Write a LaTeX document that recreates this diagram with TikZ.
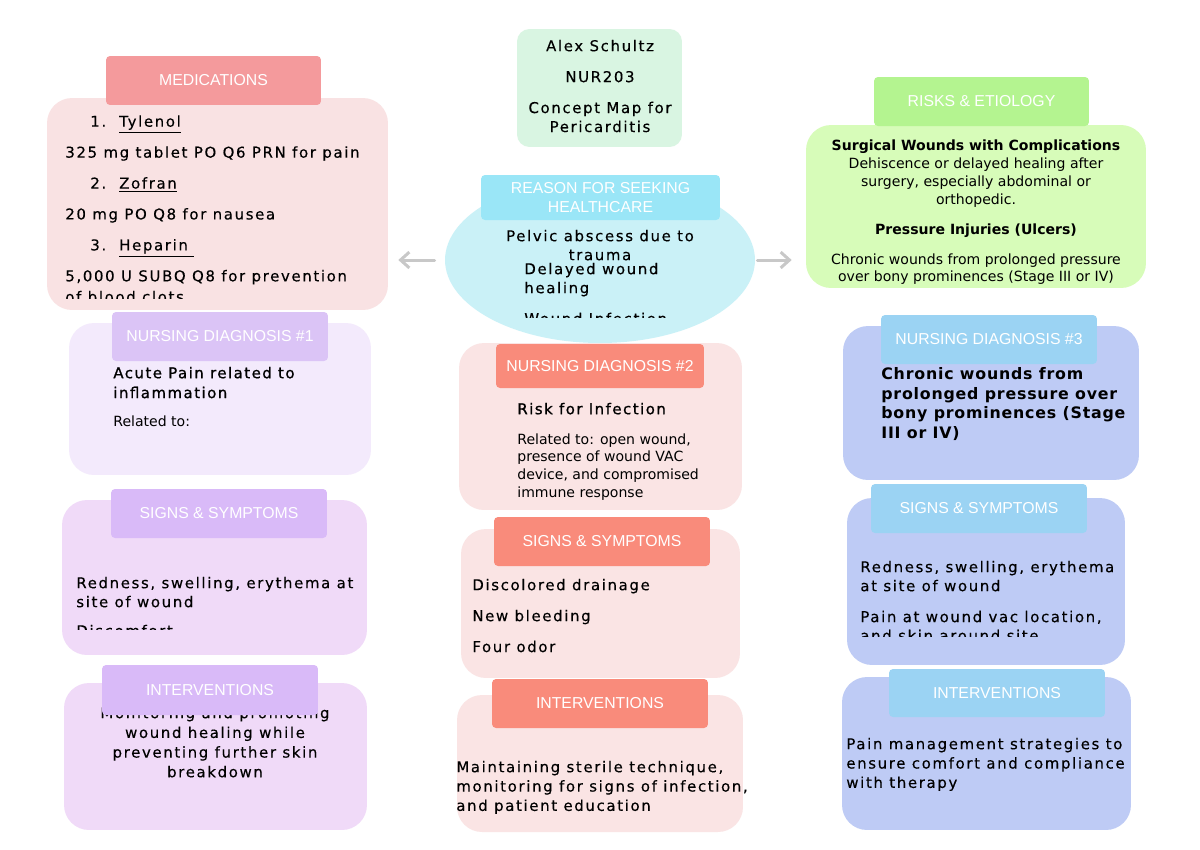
\documentclass[tikz,border=0pt]{standalone}
\usepackage{fontspec}
\setmainfont{DejaVu Sans}
\newfontfamily\bodyfont[LetterSpace=11,FakeBold=0.3]{DejaVu Sans}
\newfontfamily\semifont[LetterSpace=10,FakeBold=1]{DejaVu Sans}
\newfontfamily\widefont[LetterSpace=5]{DejaVu Sans}
\newfontfamily\plainfont{DejaVu Sans}
\newfontfamily\headfont{Liberation Sans}
\usetikzlibrary{arrows.meta,shapes.geometric}

\definecolor{medfill}{HTML}{F9E2E3}
\definecolor{medhead}{HTML}{F49A9C}
\definecolor{titlefill}{HTML}{D9F5E2}
\definecolor{reasonfill}{HTML}{CAF1F7}
\definecolor{reasonhead}{HTML}{9AE6F7}
\definecolor{riskfill}{HTML}{D7FCB9}
\definecolor{riskhead}{HTML}{B4F490}
\definecolor{lilacfill}{HTML}{F3EAFC}
\definecolor{lilachead}{HTML}{DBC4F6}
\definecolor{violetfill}{HTML}{F0DAF8}
\definecolor{violethead}{HTML}{D9BAF8}
\definecolor{rosefill}{HTML}{FAE4E4}
\definecolor{salmonhead}{HTML}{F98B7B}
\definecolor{bluefill}{HTML}{BECBF5}
\definecolor{bluehead}{HTML}{9BD3F3}
\definecolor{linkgray}{HTML}{C8C8C8}

\begin{document}
\begin{tikzpicture}[
    x=0.02cm, y=-0.02cm,
    panel/.style={rectangle, rounded corners=0.5cm, inner sep=0},
    tag/.style={rectangle, rounded corners=0.08cm, inner sep=0, text=white, align=center,
      font=\headfont\fontsize{9}{10.8}\selectfont},
    body/.style={inner sep=0, align=left, font=\bodyfont\fontsize{8.5}{11.3}\selectfont},
    link/.style={-{Straight Barb[length=5pt,width=9pt]}, line width=1.7pt, draw=linkgray, line cap=round}
  ]
    \useasboundingbox (0,0) rectangle (1200,849);
    \fill[white] (0,0) rectangle (1200,849);

    % title
    \node[panel, rounded corners=0.25cm, fill=titlefill, minimum width=3.3cm, minimum height=2.36cm] (title) at (599.5,88) {};
    \node[body, align=center, anchor=north, font=\bodyfont\fontsize{8.5}{10.8}\selectfont] (titletext) at (600,39.5)
      {Alex Schultz\\[6.8pt] NUR203\\[6.8pt] Concept Map for\\ Pericarditis};

    % medications
    \node[panel, fill=medfill, minimum width=6.82cm, minimum height=4.24cm] (med) at (217.5,204) {};
    \begin{scope}
      \clip (47,98) rectangle (388,298);
      \node[body, anchor=north west, font=\bodyfont\fontsize{8.5}{11.9}\selectfont] (medtext) at (65,115)
        {\hspace*{0.5cm}1.\hspace{0.26cm}\underline{Tylenol}\\[5.7pt]
         325 mg tablet PO Q6 PRN for pain\\[5.7pt]
         \hspace*{0.5cm}2.\hspace{0.26cm}\underline{Zofran}\\[5.7pt]
         20 mg PO Q8 for nausea\\[5.7pt]
         \hspace*{0.5cm}3.\hspace{0.26cm}\underline{Heparin\ }\\[5.7pt]
         5,000 U SUBQ Q8 for prevention\\
         of blood clots};
    \end{scope}
    \node[tag, fill=medhead, minimum width=4.3cm, minimum height=0.98cm] (medh) at (213.5,80.5) {MEDICATIONS};

    % risks and etiology
    \node[panel, fill=riskfill, minimum width=6.8cm, minimum height=3.26cm] (risk) at (976,206.5) {};
    \node[inner sep=0, align=center, anchor=north, font=\plainfont\fontsize{8}{10.2}\selectfont] (risktext) at (976,139.5)
      {\textbf{Surgical Wounds with Complications}\\
       Dehiscence or delayed healing after\\
       surgery, especially abdominal or\\
       orthopedic.\\[6.8pt]
       \textbf{Pressure Injuries (Ulcers)}\\[6.8pt]
       Chronic wounds from prolonged pressure\\
       over bony prominences (Stage III or IV)};
    \node[tag, fill=riskhead, minimum width=4.3cm, minimum height=0.98cm] (riskh) at (981.5,101.5) {RISKS \& ETIOLOGY};

    % nursing diagnosis 1
    \node[panel, fill=lilacfill, minimum width=6.04cm, minimum height=3.04cm] (nda) at (220,399) {};
    \node[body, anchor=north west] (ndatext) at (113,366.5)
      {{\semifont Acute Pain related to}\\
       {\semifont inflammation}\\[5.1pt]
       {\plainfont\fontsize{8}{10.2}\selectfont Related to:}};
    \node[tag, fill=lilachead, minimum width=4.32cm, minimum height=0.98cm] (ndah) at (220,336.5) {NURSING DIAGNOSIS \#1};

    % signs and symptoms 1
    \node[panel, fill=violetfill, minimum width=6.1cm, minimum height=3.1cm] (ssa) at (214.5,577.5) {};
    \begin{scope}
      \clip (62,500) rectangle (367,629);
      \node[body, anchor=north west, font=\bodyfont\fontsize{8.5}{10.8}\selectfont] (ssatext) at (76,576.5)
        {Redness, swelling, erythema at\\ site of wound\\[5.7pt] Discomfort};
    \end{scope}
    \node[tag, fill=violethead, minimum width=4.32cm, minimum height=0.98cm] (ssah) at (219,513.5) {SIGNS \& SYMPTOMS};

    % interventions 1
    \node[panel, fill=violetfill, minimum width=6.06cm, minimum height=2.94cm] (inta) at (215.5,756.5) {};
    \node[body, align=center, anchor=north, font=\bodyfont\fontsize{8.5}{11.2}\selectfont] (intatext) at (215,706.5)
      {Monitoring and promoting\\ wound healing while\\ preventing further skin\\ breakdown};
    \node[tag, fill=violethead, minimum width=4.32cm, minimum height=1cm] (intah) at (210,690) {INTERVENTIONS};

    % nursing diagnosis 2
    \node[panel, fill=rosefill, minimum width=5.66cm, minimum height=3.34cm] (ndb) at (600.5,426.5) {};
    \node[body, anchor=north west, font=\bodyfont\fontsize{8.5}{10.2}\selectfont] (ndbtext) at (517,402.5)
      {{\semifont Risk for Infection}\\[6.8pt]
       {\plainfont\fontsize{8}{10.2}\selectfont Related to: open wound,}\\
       {\plainfont\fontsize{8}{10.2}\selectfont presence of wound VAC}\\
       {\plainfont\fontsize{8}{10.2}\selectfont device, and compromised}\\
       {\plainfont\fontsize{8}{10.2}\selectfont immune response}};

    % reason for seeking healthcare
    \node[ellipse, fill=reasonfill, inner sep=0, minimum width=6.2cm, minimum height=3.32cm] (reason) at (600,260) {};
    \node[body, align=center, anchor=north, font=\bodyfont\fontsize{8.5}{10.8}\selectfont] (reasontext) at (600,229.5)
      {Pelvic abscess due to\\ trauma};
    \begin{scope}
      \clip (445,175) rectangle (755,317);
      \node[body, anchor=north west, font=\bodyfont\fontsize{8.5}{10.8}\selectfont] (causetext) at (524,262.5)
        {Delayed wound\\ healing\\[6.8pt] Wound Infection};
    \end{scope}
    \node[tag, fill=reasonhead, minimum width=4.78cm, minimum height=0.9cm] (reasonh) at (600.5,197.5)
      {REASON FOR SEEKING\\ HEALTHCARE};
    \node[tag, fill=salmonhead, minimum width=4.16cm, minimum height=0.88cm] (ndbh) at (600,366) {NURSING DIAGNOSIS \#2};

    % signs and symptoms 2
    \node[panel, fill=rosefill, minimum width=5.58cm, minimum height=2.98cm] (ssb) at (600.5,603.5) {};
    \node[body, anchor=north west, font=\bodyfont\fontsize{8.5}{17.6}\selectfont] (ssbtext) at (472,578.5)
      {Discolored drainage\\ New bleeding\\ Four odor};
    \node[tag, fill=salmonhead, minimum width=4.32cm, minimum height=0.98cm] (ssbh) at (602,541.5) {SIGNS \& SYMPTOMS};

    % interventions 2
    \node[panel, fill=rosefill, minimum width=5.72cm, minimum height=2.74cm] (intb) at (600,763.5) {};
    \node[body, anchor=north west, font=\bodyfont\fontsize{8.5}{11}\selectfont] (intbtext) at (456,760.5)
      {Maintaining sterile technique,\\ monitoring for signs of infection,\\ and patient education};
    \node[tag, fill=salmonhead, minimum width=4.32cm, minimum height=0.98cm] (intbh) at (600,703.5) {INTERVENTIONS};

    % nursing diagnosis 3
    \node[panel, fill=bluefill, minimum width=5.92cm, minimum height=3.08cm] (ndc) at (991,403) {};
    \node[body, anchor=north west, font=\widefont\bfseries\fontsize{9}{11.2}\selectfont] (ndctext) at (881,367)
      {Chronic wounds from\\ prolonged pressure over\\ bony prominences (Stage\\ III or IV)};
    \node[tag, fill=bluehead, minimum width=4.32cm, minimum height=0.98cm] (ndch) at (989,339.5) {NURSING DIAGNOSIS \#3};

    % signs and symptoms 3
    \node[panel, fill=bluefill, minimum width=5.56cm, minimum height=3.34cm] (ssc) at (986,581.5) {};
    \begin{scope}
      \clip (847,498) rectangle (1125,636);
      \node[body, anchor=north west, font=\bodyfont\fontsize{8.5}{10.8}\selectfont] (ssctext) at (860,560.5)
        {Redness, swelling, erythema\\ at site of wound\\[6.8pt] Pain at wound vac location,\\ and skin around site};
    \end{scope}
    \node[tag, fill=bluehead, minimum width=4.32cm, minimum height=0.98cm] (ssch) at (979,508.5) {SIGNS \& SYMPTOMS};

    % interventions 3
    \node[panel, fill=bluefill, minimum width=5.78cm, minimum height=3.06cm] (intc) at (986.5,753.5) {};
    \node[body, anchor=north west, font=\bodyfont\fontsize{8.5}{11}\selectfont] (intctext) at (846,737.5)
      {Pain management strategies to\\ ensure comfort and compliance\\ with therapy};
    \node[tag, fill=bluehead, minimum width=4.32cm, minimum height=0.96cm] (intch) at (997,693) {INTERVENTIONS};

    % arrows
    \draw[link, shorten <=0.2cm, shorten >=0.2cm] (reason.west) -- (reason.west -| med.east);
    \draw[link, shorten <=0.04cm, shorten >=0.28cm] (reason.east) -- (reason.east -| risk.west);
  \end{tikzpicture}
\end{document}
